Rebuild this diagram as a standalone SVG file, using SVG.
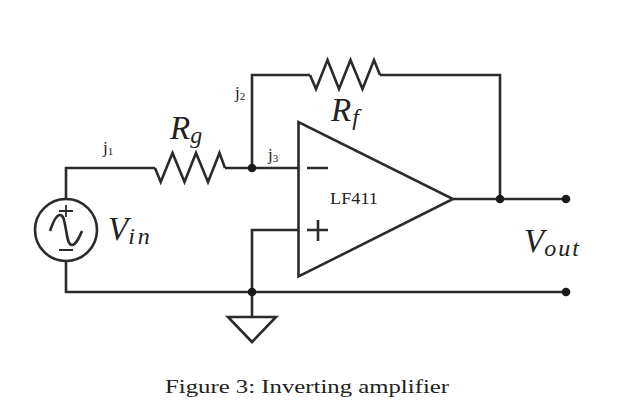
<svg xmlns="http://www.w3.org/2000/svg" width="624" height="413" viewBox="0 0 624 413">
<style>
.w{fill:none;stroke:#2b2b2b;stroke-width:2.6;stroke-linejoin:miter}
.t{fill:none;stroke:#2b2b2b;stroke-width:1.8}
.d{fill:#1a1a1a}
text{font-family:"Liberation Serif","Times New Roman",serif;fill:#222}
.m{font-style:italic;font-size:33px}
.s{font-style:italic;font-size:24px}
.j{font-size:17px}
.js{font-size:11px}
</style>
<rect width="624" height="413" fill="#fff"/>
<g id="connectors">
<path class="w" d="M66 199V168H155"/>
<path class="w" d="M225 168H298"/>
<path class="w" d="M252 168V75H310"/>
<path class="w" d="M380 75H500V199"/>
<path class="w" d="M453 199H566"/>
<path class="w" d="M298 230H252V317"/>
<path class="w" d="M66 261V292H566"/>
</g>
<g id="source">
<circle class="w" cx="66" cy="230" r="31"/>
<path class="t" d="M59 211H73M66 205V217M59 250H73"/>
<path class="w" d="M50 231C53 222 56 215 60 215C64 215 64.500 222 66 230C67.500 238 68 245 72 245C76 245 79 238 82 231"/>
</g>
<g id="Rg"><path class="w" d="M155 168L160.700 182L172.500 153L184.500 182L196 153L208 182L219.500 153L225 168"/></g>
<g id="Rf"><path class="w" d="M310 75L316 89L327.500 60L339 89L350.500 60L362.500 89L374 60L380 75"/></g>
<g id="opamp">
<path class="w" d="M298.500 122V276.500L453 199Z"/>
<path class="w" d="M307 168H328M307 230H328M318 220V241"/>
<text x="330" y="204" font-size="16" textLength="48" lengthAdjust="spacingAndGlyphs">LF411</text>
</g>
<g id="ground"><path class="w" d="M228 317H276L252 342Z"/></g>
<g id="junctions">
<circle class="d" cx="252" cy="168" r="4.300"/>
<circle class="d" cx="500" cy="199" r="4.300"/>
<circle class="d" cx="252" cy="292" r="4.300"/>
<circle class="d" cx="566" cy="199" r="4.300"/>
<circle class="d" cx="566" cy="292" r="4.300"/>
</g>
<g id="labels">
<text x="103" y="153" class="j">j<tspan class="js" dy="2">1</tspan></text>
<text x="235" y="98" class="j">j<tspan class="js" dy="2">2</tspan></text>
<text x="268" y="160" class="j">j<tspan class="js" dy="2">3</tspan></text>
<text x="170" y="139" class="m">R<tspan class="s" dy="4">g</tspan></text>
<text x="331" y="121" class="m">R<tspan class="s" dy="4" dx="1">f</tspan></text>
<text x="108" y="240" class="m">V<tspan class="s" dy="4" letter-spacing="3">in</tspan></text>
<text x="524" y="252" class="m">V<tspan class="s" dy="4" letter-spacing="2">out</tspan></text>
<text x="165" y="393" font-size="19.500" textLength="284" lengthAdjust="spacingAndGlyphs">Figure 3: Inverting amplifier</text>
</g>
</svg>
